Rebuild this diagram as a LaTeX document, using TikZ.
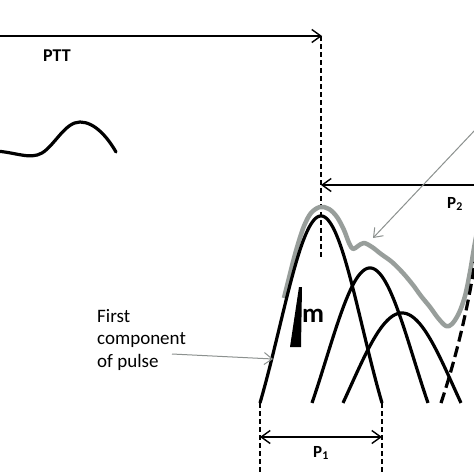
\documentclass[tikz,border=0pt]{standalone}
\usepackage{fontspec}
\setmainfont{Carlito}
\usetikzlibrary{arrows.meta}
\definecolor{envgray}{RGB}{152,158,155}
\definecolor{thingray}{RGB}{140,145,143}
\begin{document}
\begin{tikzpicture}[x=1pt,y=-1pt,
  gauss/.style={line width=3.2pt, black},
  env/.style={line width=4.5pt, envgray, line join=round},
  dim/.style={line width=1.4pt, black},
  vdash/.style={line width=1.3pt, black, dash pattern=on 5pt off 3pt},
  barb/.tip={Straight Barb[length=9pt,width=13pt,line width=1.4pt]},
  gbarb/.tip={Straight Barb[length=8pt,width=12pt,line width=1pt]},
  pointer/.style={line width=1pt, thingray, -gbarb},
  lab/.style={font=\fontsize{17}{20}\selectfont\bfseries, inner sep=0pt, anchor=base west},
  txt/.style={font=\fontsize{19}{22.5}\selectfont, inner sep=0pt, align=left, anchor=base west}
]
\useasboundingbox (0,0) rectangle (474,474);
\fill[white] (0,0) rectangle (474,474);

% coordinates
\coordinate (pttL) at (-5,36);
\coordinate (pttR) at (322,36);
\coordinate (peakTop) at (321,36);
\coordinate (peakBot) at (321,258);
\coordinate (p2R) at (480,185);
\coordinate (p2L) at (321,185);
\coordinate (aL) at (260,403);
\coordinate (aLb) at (260,480);
\coordinate (bR) at (382,403);
\coordinate (bRb) at (382,480);
\coordinate (p1L) at (260,437);
\coordinate (p1R) at (382,437);
\coordinate (gs) at (476,129);
\coordinate (ge) at (373,238);
\coordinate (fs) at (172,354);
\coordinate (fe) at (273,359);

\begin{scope}
\clip (0,0) rectangle (474,474);
% small wave
\draw[gauss, line cap=round] (-5,151) .. controls (15,152) and (30,160) .. (42,153)
  .. controls (55,145) and (65,122) .. (80,122)
  .. controls (95,122) and (108,138) .. (116,152);

% PTT arrow
\draw[dim, -barb] (pttL) -- (pttR);
\draw[vdash] (peakTop) -- (peakBot);
% P2 arrow
\draw[dim, -barb] (p2R) -- (p2L);

% gray envelope
\draw[env] plot[smooth, tension=0.55] coordinates {(284,298) (288,282) (293,262) (298,244) (304,226) (311,213) (320,207) (329,209) (337,217) (344,230) (349,243) (353,249) (358,246) (364,243) (372,247) (381,254) (392,262) (403,273) (413,285) (421,296) (430,307) (438,318) (446,326) (452,324) (459,313) (465,296) (470,272) (474,248) (477,232)};

% gaussians
\draw[gauss] plot[domain=260:382, samples=90] (\x, {500-284*exp(-((\x-321)^2)/3464)});
\draw[gauss] plot[domain=312:428, samples=90] (\x, {500-232*exp(-((\x-370)^2)/3858)});
\draw[gauss] plot[domain=343:461, samples=90] (\x, {500-187*exp(-((\x-402)^2)/5306)});
% dashed next component
\draw[line width=3.2pt, dash pattern=on 11pt off 5pt] (441,403) .. controls (452,370) and (466,320) .. (475,262);

% wedge
\fill (299,287) -- (302,287) -- (301,347) -- (290,347) -- cycle;

% P1 dimension
\draw[vdash] (aL) -- (aLb);
\draw[vdash] (bR) -- (bRb);
\draw[dim, barb-barb] (p1L) -- (p1R);

% pointers
\draw[pointer] (gs) -- (ge);
\draw[pointer] (fs) -- (fe);
\end{scope}

% labels
\node[lab, font=\fontsize{18}{20}\selectfont\bfseries] (ptt) at (43,61) {PTT};
\node[lab] (p2) at (447,208) {P\textsubscript{2}};
\node[lab] (p1) at (313,457) {P\textsubscript{1}};
\node[lab, font=\fontsize{27}{30}\selectfont\bfseries] (m) at (302,322) {m};
\node[txt] (first) at (97,367) {First\\component\\of pulse};
\end{tikzpicture}
\end{document}
